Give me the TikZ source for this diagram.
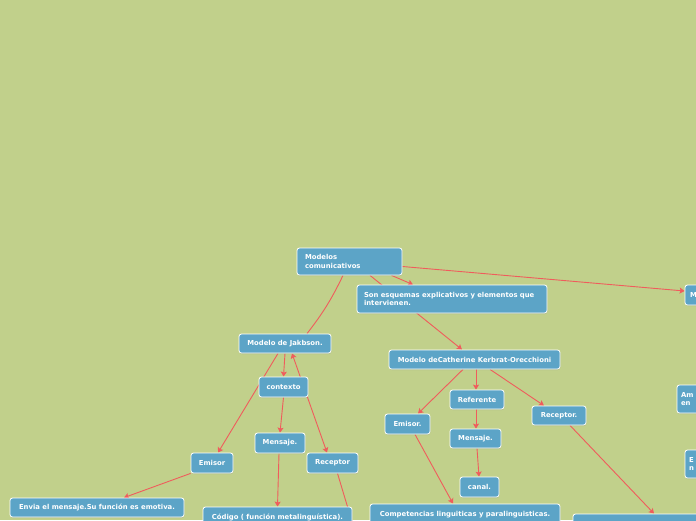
\documentclass[tikz,border=0pt]{standalone}
\usepackage{fontspec}
\setmainfont{DejaVu Sans}
\usetikzlibrary{arrows.meta,shadows}
\definecolor{bgc}{RGB}{193,208,139}
\definecolor{nodeblue}{RGB}{92,164,199}
\definecolor{linkred}{RGB}{240,92,92}
\pgfdeclarelayer{bglayer}
\pgfdeclarelayer{edgelayer}
\pgfsetlayers{bglayer,edgelayer,main}
\tikzset{
  box/.style={rectangle, rounded corners=2.5pt, fill=nodeblue, draw=white, line width=0.8pt,
    text=white, font=\bfseries\fontsize{6.85}{8.2}\selectfont, inner sep=0pt,
    drop shadow={shadow xshift=0.4pt, shadow yshift=-1pt, opacity=0.25}},
  link/.style={draw=linkred, line width=0.9pt},
  arr/.style={link, -{Stealth[length=5pt,width=6pt,inset=1pt]}},
  barr/.style={link, {Stealth[length=5pt,width=6pt,inset=1pt]}-{Stealth[length=5pt,width=6pt,inset=1pt]}}
}
\begin{document}
\begin{tikzpicture}[x=1pt,y=-1pt]
\useasboundingbox (0,0) rectangle (696,520);
\begin{pgfonlayer}{bglayer}
\fill[bgc] (0,0) rectangle (696,520);
\end{pgfonlayer}
\clip (0,0) rectangle (696,520);
% nodes
\node[box, minimum width=105, minimum height=27, text width=89, align=left] (mc) at (349.5,261.5) {Modelos\\comunicativos};
\node[box, minimum width=190, minimum height=28, text width=176, align=left] (se) at (452,299) {Son esquemas explicativos y elementos que\\intervienen.};
\node[box, minimum width=92, minimum height=19] (jk) at (285,343.5) {Modelo de Jakbson.};
\node[box, minimum width=171, minimum height=19] (ck) at (474.5,359.5) {Modelo deCatherine Kerbrat-Orecchioni};
\node[box, minimum width=49, minimum height=20] (ctx) at (283.5,387) {contexto};
\node[box, minimum width=54, minimum height=19] (ref) at (477,399.5) {Referente};
\node[box, minimum width=54, minimum height=19] (recR) at (559,415.5) {Receptor.};
\node[box, minimum width=45, minimum height=20] (emR) at (407.5,424) {Emisor.};
\node[box, minimum width=50, minimum height=20] (men) at (280,443) {Mensaje.};
\node[box, minimum width=51, minimum height=19] (menR) at (475.5,438.5) {Mensaje.};
\node[box, minimum width=42, minimum height=20] (em) at (212,463) {Emisor};
\node[box, minimum width=51, minimum height=20] (rec) at (332.5,463) {Receptor};
\node[box, minimum width=39, minimum height=20] (can) at (479.5,487) {canal.};
\node[box, minimum width=174, minimum height=19] (env) at (97,507.5) {Envia el mensaje.Su función es emotiva.};
\node[box, minimum width=149, minimum height=20] (cod) at (277.5,517) {Código ( función metalinguística).};
\node[box, minimum width=190, minimum height=22] (comp) at (465,515) {\raisebox{3pt}{Competencias linguiticas y paralinguisticas.}};
\node[box, minimum width=187, minimum height=26] (br) at (666.5,527) {};
\node[box, minimum width=65, minimum height=20, text width=55, align=left] (rM) at (717.5,295) {M};
\node[box, minimum width=73, minimum height=28, text width=65, align=left] (rAm) at (713.5,399) {Am\\en};
\node[box, minimum width=65, minimum height=28, text width=57, align=left] (rE) at (717.5,464) {E\\n};
\coordinate (recdown) at (356,535);
% connectors (behind nodes)
\begin{pgfonlayer}{edgelayer}
\draw[link] ([xshift=-6.5]mc.south) to[bend left=6] ([xshift=22]jk.north);
\draw[arr] ([xshift=42]mc.south) -- ([xshift=-39]se.north);
\draw[arr] ([xshift=20.5]mc.south) -- ([xshift=-12.5]ck.north);
\draw[arr] ([yshift=-5]mc.east) -- ([yshift=4]rM.west);
\draw[arr] ([xshift=-7]jk.south) -- ([xshift=6]em.north);
\draw[arr] (jk.south) -- (ctx.north);
\draw[barr] ([xshift=7]jk.south) -- ([xshift=-5.5]rec.north);
\draw[arr] (ctx.south) -- (men.north);
\draw[arr] ([xshift=-1]men.south) -- (cod.north);
\draw[link] ([xshift=5]rec.south) -- (recdown);
\draw[arr] (em.south west) -- ([xshift=27]env.north);
\draw[arr] ([xshift=-11.5]ck.south) -- ([xshift=10.5]emR.north);
\draw[arr] ([xshift=1.5]ck.south) -- ([xshift=-1]ref.north);
\draw[arr] ([xshift=15.5]ck.south) -- ([xshift=-15]recR.north);
\draw[arr] ([xshift=-1]ref.south) -- ([xshift=0.5]menR.north);
\draw[arr] ([xshift=1.5]menR.south) -- ([xshift=-0.5]can.north);
\draw[arr] ([xshift=7.5]emR.south) -- ([xshift=-12]comp.north);
\draw[arr] ([xshift=11]recR.south) -- ([xshift=-12.5]br.north);
\end{pgfonlayer}
\end{tikzpicture}
\end{document}
